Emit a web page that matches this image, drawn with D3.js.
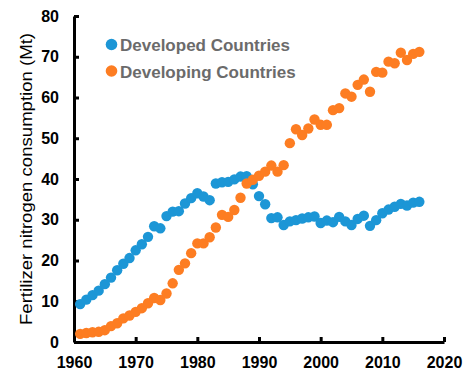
<!doctype html>
<html lang="en">
<head>
<meta charset="utf-8">
<title>Fertilizer nitrogen consumption</title>
<style>
html, body, svg { margin: 0; padding: 0; border: 0; background: #fff; }
text { font-family: "Liberation Sans", Arial, sans-serif; }
</style>
</head>
<body>
<svg></svg>
<script src="https://d3js.org/d3.v7.min.js"></script>
<script>
// years 1961-2016
var years = d3.range(1961, 2017);

var developed = [
  9.3, 10.4, 11.5, 12.6, 14.2, 15.8, 17.6, 19.2, 20.6, 22.5,
  24.0, 25.8, 28.4, 27.9, 30.9, 32.0, 32.1, 34.0, 35.3, 36.5,
  35.7, 34.8, 38.9, 39.2, 39.3, 39.9, 40.6, 40.7, 38.7, 35.8,
  33.8, 30.4, 30.6, 28.7, 29.6, 29.9, 30.3, 30.6, 30.8, 29.2,
  29.8, 29.4, 30.7, 29.6, 28.7, 30.2, 31.0, 28.5, 29.9, 31.6,
  32.5, 33.2, 33.9, 33.5, 34.2, 34.4
];

var developing = [
  2.0, 2.2, 2.4, 2.5, 2.9, 3.9, 4.6, 5.8, 6.5, 7.4,
  8.3, 9.5, 10.8, 10.3, 11.9, 14.4, 17.7, 19.3, 21.8, 24.2,
  24.2, 25.7, 28.1, 31.2, 30.7, 32.4, 35.4, 38.9, 39.8, 40.8,
  41.8, 43.3, 41.8, 43.4, 48.8, 52.2, 50.8, 52.4, 54.6, 53.3,
  53.3, 56.9, 57.4, 61.0, 60.2, 63.1, 64.4, 61.4, 66.3, 66.1,
  68.8, 68.4, 71.0, 69.2, 70.7, 71.2
];

var seriesNames = ["Developed Countries", "Developing Countries"];
var seriesColors = ["#1c96d6", "#fd7d22"];
var xTicks = [1960, 1970, 1980, 1990, 2000, 2010, 2020];
var yTicks = [0, 10, 20, 30, 40, 50, 60, 70, 80];

var W = 474, H = 383;
var svg = d3.select("svg").attr("width", W).attr("height", H);

var x = d3.scaleLinear().domain([1960, 2020]).range([74, 444]);
var y = d3.scaleLinear().domain([0, 80]).range([342, 16]);

// axes, ticks pointing inward
var xAxis = svg.append("g")
  .attr("transform", "translate(0," + y(0) + ")")
  .call(d3.axisBottom(x).tickValues(xTicks).tickFormat(d3.format("d"))
    .tickSizeInner(-5).tickSizeOuter(0).tickPadding(15));

var yAxis = svg.append("g")
  .attr("transform", "translate(" + x(1960) + ",0)")
  .call(d3.axisLeft(y).tickValues(yTicks)
    .tickSizeInner(-5).tickSizeOuter(0).tickPadding(15));

[xAxis, yAxis].forEach(function(a) {
  a.select(".domain").attr("stroke", "#000").attr("stroke-width", 3);
  a.selectAll(".tick line").attr("stroke", "#000").attr("stroke-width", 3);
  a.selectAll(".tick text")
    .attr("fill", "#000")
    .style("font-size", "16px")
    .style("font-weight", "bold");
});

svg.append("text")
  .attr("transform", "translate(32,179) rotate(-90)")
  .attr("text-anchor", "middle")
  .attr("textLength", 292)
  .attr("lengthAdjust", "spacingAndGlyphs")
  .style("font-size", "16px")
  .attr("fill", "#000")
  .text("Fertilizer nitrogen consumption (Mt)");

// points
[developed, developing].forEach(function(vals, i) {
  svg.append("g").selectAll("circle")
    .data(vals)
    .enter()
    .append("circle")
    .attr("cx", function(d, j) { return x(years[j]); })
    .attr("cy", function(d) { return y(d); })
    .attr("r", 5.2)
    .attr("fill", seriesColors[i]);
});

// legend
var legend = svg.append("g");
seriesNames.forEach(function(name, i) {
  var ly = 44.5 + i * 26.5;
  legend.append("circle")
    .attr("cx", 111.5).attr("cy", ly).attr("r", 5.8)
    .attr("fill", seriesColors[i]);
  legend.append("text")
    .attr("x", 120).attr("y", ly + 6.5)
    .style("font-size", "17px")
    .style("font-weight", "bold")
    .attr("fill", "#6b6b6b")
    .text(name);
});
</script>
</body>
</html>
